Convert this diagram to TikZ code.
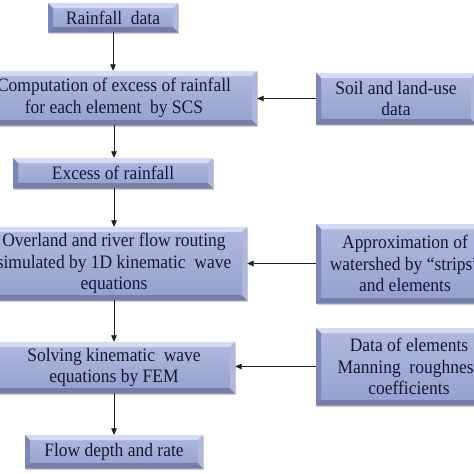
\documentclass[tikz,border=0pt]{standalone}
\usepackage{fontspec}
\setmainfont{Liberation Serif}[FakeStretch=0.92]
\usetikzlibrary{arrows.meta,shadows}
\definecolor{facetop}{RGB}{176,186,224}
\definecolor{facebot}{RGB}{148,160,204}
\definecolor{bevtop}{RGB}{212,220,244}
\definecolor{bevleft}{RGB}{122,135,184}
\definecolor{bevbot}{RGB}{116,126,168}
\definecolor{bevright}{RGB}{174,184,220}
\definecolor{txt}{RGB}{20,24,52}
\definecolor{arrc}{RGB}{30,30,30}
\tikzset{
  bevbox/.style={
    rectangle, inner sep=0pt, align=center, text=txt,
    font=\fontsize{19}{21.5}\selectfont,
    top color=facetop, bottom color=facebot, draw=none,
    drop shadow={shadow xshift=1pt, shadow yshift=-2pt, fill=gray!45, opacity=0.8},
    path picture={
      \fill[bevtop] (path picture bounding box.north west) -- (path picture bounding box.north east)
        -- ([xshift=-5pt,yshift=-5pt]path picture bounding box.north east)
        -- ([xshift=5pt,yshift=-5pt]path picture bounding box.north west) -- cycle;
      \fill[bevleft] (path picture bounding box.north west) -- ([xshift=5pt,yshift=-5pt]path picture bounding box.north west)
        -- ([xshift=5pt,yshift=5pt]path picture bounding box.south west)
        -- (path picture bounding box.south west) -- cycle;
      \fill[bevbot] (path picture bounding box.south west) -- ([xshift=5pt,yshift=5pt]path picture bounding box.south west)
        -- ([xshift=-5pt,yshift=5pt]path picture bounding box.south east)
        -- (path picture bounding box.south east) -- cycle;
      \fill[bevright] (path picture bounding box.north east) -- ([xshift=-5pt,yshift=-5pt]path picture bounding box.north east)
        -- ([xshift=-5pt,yshift=5pt]path picture bounding box.south east)
        -- (path picture bounding box.south east) -- cycle;
    }
  },
  arr/.style={draw=arrc, line width=0.8pt, -{Triangle[length=6.5pt,width=5.5pt]}}
}
\begin{document}
\begin{tikzpicture}[x=1pt,y=-1pt]
\useasboundingbox (0,0) rectangle (474,474);
\fill[white] (0,0) rectangle (474,474);
\clip (0,0) rectangle (474,474);
\node[bevbox, minimum width=130pt, minimum height=29pt] (rain) at (113,17.5) {Rainfall\ \ data};
\node[bevbox, minimum width=286pt, minimum height=54pt] (comp) at (114,98) {Computation of excess of rainfall\\for each element\ \ by SCS};
\node[bevbox, minimum width=160pt, minimum height=51pt] (soil) at (396,98.5) {Soil and land-use\\data};
\node[bevbox, minimum width=200pt, minimum height=30pt] (exc) at (113,173) {Excess of rainfall};
\node[bevbox, minimum width=266pt, minimum height=73pt] (over) at (114,263.5) {Overland and river flow routing\\simulated by 1D kinematic\ \ wave\\equations};
\node[bevbox, minimum width=178pt, minimum height=79pt] (appr) at (405,263.5) {Approximation of\\watershed by “strips”\\and elements};
\node[bevbox, minimum width=242pt, minimum height=51pt] (solve) at (114,367.5) {Solving kinematic\ \ wave\\equations by FEM};
\node[bevbox, minimum width=186pt, minimum height=77pt] (data) at (409,366.5) {Data of elements\\Manning\ \ roughness\\coefficients};
\node[bevbox, minimum width=178pt, minimum height=33pt] (flow) at (114,451.5) {Flow depth and rate};
\draw[arr] (rain.south) -- (rain.south |- comp.north);
\draw[arr] (comp.south) -- (exc.north -| comp.south);
\draw[arr] (exc.south -| over.north) -- (over.north);
\draw[arr] (over.south) -- (solve.north);
\draw[arr] (solve.south) -- (flow.north);
\draw[arr] (soil.west) -- (soil.west -| comp.east);
\draw[arr] (appr.west) -- (appr.west -| over.east);
\draw[arr] (data.west) -- (data.west -| solve.east);
\end{tikzpicture}
\end{document}
